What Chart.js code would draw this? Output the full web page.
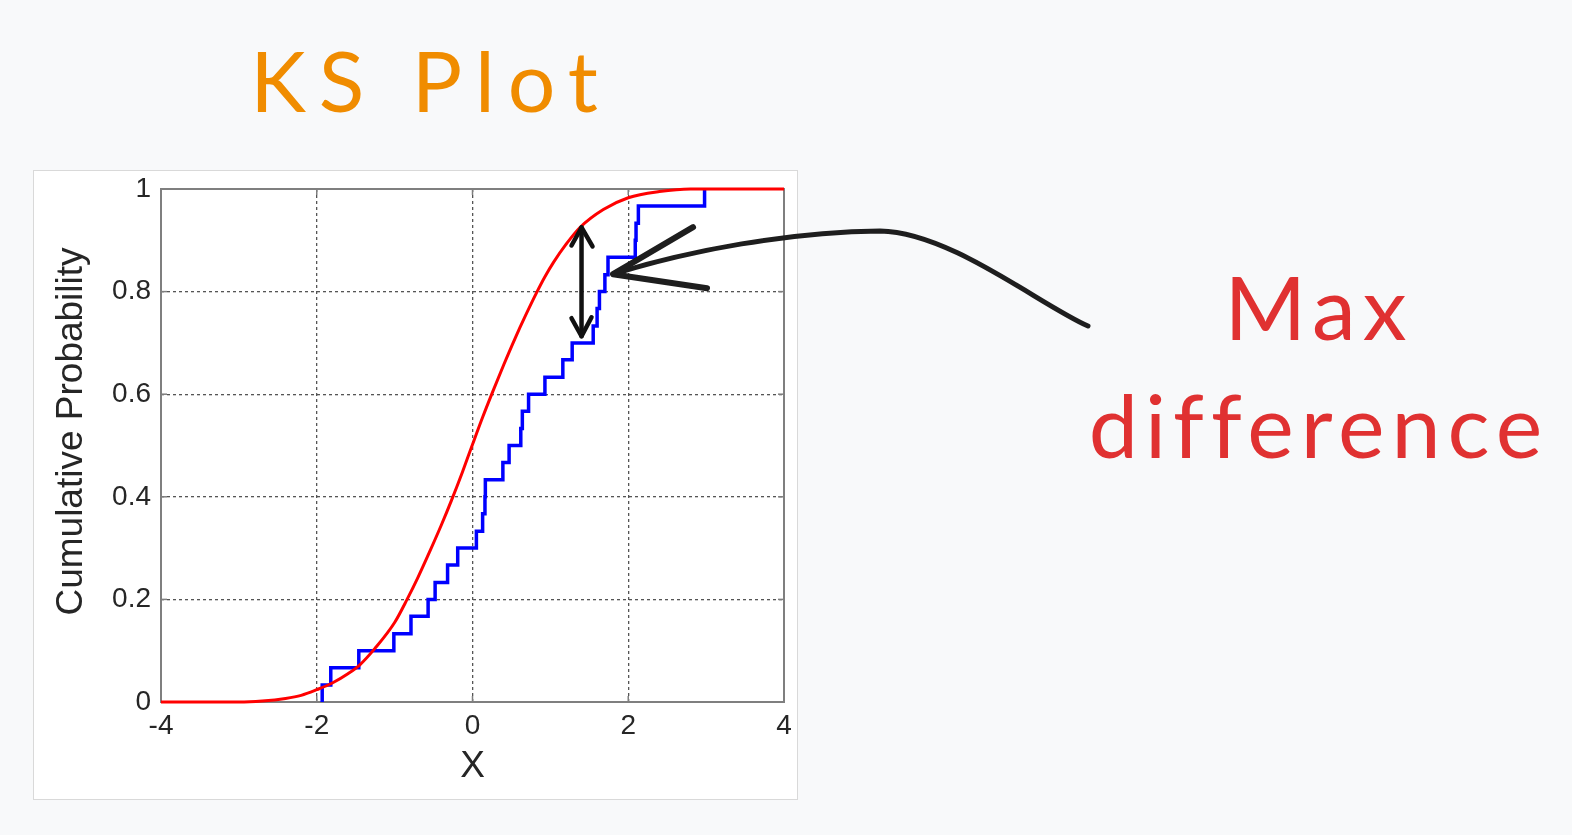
<!DOCTYPE html>
<html>
<head>
<meta charset="utf-8">
<title>KS Plot</title>
<script src="https://cdn.jsdelivr.net/npm/chart.js@4.4.1/dist/chart.umd.min.js"></script>
<style>
  html, body { margin: 0; padding: 0; }
  body { width: 1572px; height: 835px; background: #f8f9fa; position: relative; overflow: hidden; }
  .hand { position: absolute; font-family: Lato, "Open Sans", sans-serif; white-space: nowrap; text-align: center; }
  #title { left: 0; width: 861px; top: 30px; font-size: 84px; line-height: 100px; color: #f08c00; letter-spacing: 13px; }
  #note { left: 1069px; width: 500px; top: 247px; font-size: 88px; line-height: 118px; color: #e03131; letter-spacing: 7px; }
  #box { position: absolute; left: 33px; top: 170px; width: 765px; height: 630px; background: #fff;
         border: 1px solid #d9d9d9; box-sizing: border-box; }
  #arrows { position: absolute; left: 0; top: 0; pointer-events: none; }
</style>
</head>
<body>
<div class="hand" id="title">KS Plot</div>
<div class="hand" id="note">Max<br>difference</div>
<div id="box"><canvas id="ks"></canvas></div>
<svg id="arrows" width="1572" height="835">
  <path id="curve" d="" fill="none" stroke="#1e1e1e" stroke-width="5" stroke-linecap="round" stroke-linejoin="round"/>
  <path id="head" d="" fill="none" stroke="#1e1e1e" stroke-width="6" stroke-linecap="round" stroke-linejoin="round"/>
</svg>
<script>
// axis ticks
var xTicks = [-4, -2, 0, 2, 4];
var yTicks = [0, 0.2, 0.4, 0.6, 0.8, 1];
var yTickLabels = ['0', '0.2', '0.4', '0.6', '0.8', '1'];

// red curve (fitted normal CDF)
var cdfX = [-4, -3, -2.7, -2.4, -2.2, -2.0, -1.8, -1.6, -1.45, -1.25, -1.0, -0.84, -0.7, -0.55, -0.4, -0.27, -0.13, 0.0,
            0.13, 0.26, 0.4, 0.55, 0.68, 0.82, 0.93, 1.04, 1.2, 1.38, 1.68, 2.0, 2.4, 2.8, 4];
var cdfY = [0, 0, 0.002, 0.007, 0.013, 0.024, 0.037, 0.055, 0.072, 0.105, 0.155, 0.2, 0.243, 0.293, 0.345, 0.393, 0.448, 0.502,
            0.555, 0.605, 0.657, 0.71, 0.753, 0.797, 0.829, 0.857, 0.892, 0.925, 0.96, 0.983, 0.995, 1, 1];

// blue empirical CDF (30 samples)
var ecdfX = [-1.93, -1.93, -1.82, -1.46, -1.01, -0.79, -0.57, -0.48, -0.32, -0.19, 0.05, 0.13, 0.16, 0.165, 0.39, 0.47,
             0.62, 0.64, 0.72, 0.93, 1.16, 1.28, 1.55, 1.60, 1.63, 1.70, 1.74, 2.09, 2.10, 2.13, 2.98];
var ecdfY = [0, 0.033, 0.067, 0.1, 0.133, 0.167, 0.2, 0.233, 0.267, 0.3, 0.333, 0.367, 0.4, 0.433, 0.467, 0.5,
             0.533, 0.567, 0.6, 0.633, 0.667, 0.7, 0.733, 0.767, 0.8, 0.833, 0.867, 0.9, 0.933, 0.967, 1];

// annotations: double arrow (data coords) and the curved pointer
var gapX = 1.40, gapTop = 0.925, gapBottom = 0.713;
var pointerTip = [1.805, 0.834];
var pointerTail = [1088, 326];

var tickFont = '"Liberation Sans", Arial, sans-serif';
var frameColor = '#7f7f7f';

function pts(xs, ys) {
  var out = [];
  for (var i = 0; i < xs.length; i++) out.push({ x: xs[i], y: ys[i] });
  return out;
}

function line(ctx, x1, y1, x2, y2) {
  ctx.beginPath();
  ctx.moveTo(x1, y1);
  ctx.lineTo(x2, y2);
  ctx.stroke();
}

var ksDecor = {
  id: 'ksDecor',
  beforeDatasetsDraw: function (chart) {
    var ctx = chart.ctx, a = chart.chartArea, sx = chart.scales.x, sy = chart.scales.y;
    ctx.save();
    ctx.strokeStyle = frameColor;
    ctx.lineWidth = 1.5;
    // inward tick marks, matlab style
    xTicks.forEach(function (v) {
      var px = sx.getPixelForValue(v);
      line(ctx, px, a.bottom, px, a.bottom - 6);
      line(ctx, px, a.top, px, a.top + 6);
    });
    yTicks.forEach(function (v) {
      var py = sy.getPixelForValue(v);
      line(ctx, a.left, py, a.left + 6, py);
      line(ctx, a.right, py, a.right - 6, py);
    });
    ctx.lineWidth = 2;
    ctx.strokeRect(a.left, a.top, a.right - a.left, a.bottom - a.top);
    // y axis title
    ctx.translate(a.left - 79, (a.top + a.bottom) / 2 - 14);
    ctx.rotate(-Math.PI / 2);
    ctx.fillStyle = '#262626';
    ctx.font = '37px ' + tickFont;
    ctx.textAlign = 'center';
    ctx.textBaseline = 'alphabetic';
    ctx.fillText('Cumulative Probability', 0, 0);
    ctx.restore();
  },
  afterDatasetsDraw: function (chart) {
    var ctx = chart.ctx, sx = chart.scales.x, sy = chart.scales.y;
    var x = sx.getPixelForValue(gapX);
    var y1 = sy.getPixelForValue(gapTop), y2 = sy.getPixelForValue(gapBottom);
    ctx.save();
    ctx.strokeStyle = '#111';
    ctx.lineWidth = 4.5;
    ctx.lineCap = 'round';
    ctx.lineJoin = 'round';
    line(ctx, x, y1, x, y2);
    ctx.beginPath();
    ctx.moveTo(x - 10, y1 + 18); ctx.lineTo(x, y1); ctx.lineTo(x + 11, y1 + 19);
    ctx.moveTo(x - 10, y2 - 18); ctx.lineTo(x, y2); ctx.lineTo(x + 10, y2 - 19);
    ctx.stroke();
    ctx.restore();
  },
  afterDraw: function (chart) {
    // curved pointer lives in the page-wide svg, tip follows the chart scales
    var r = chart.canvas.getBoundingClientRect();
    var tx = r.left + chart.scales.x.getPixelForValue(pointerTip[0]);
    var ty = r.top + chart.scales.y.getPixelForValue(pointerTip[1]);
    var d = 'M ' + pointerTail[0] + ' ' + pointerTail[1] +
      ' C 1040 305, 950 232, 880 231' +
      ' C 790 232, 690 250, ' + tx + ' ' + ty;
    document.getElementById('curve').setAttribute('d', d);
    var h = 'M ' + (tx + 80) + ' ' + (ty - 47) + ' L ' + tx + ' ' + ty + ' L ' + (tx + 94) + ' ' + (ty + 14);
    document.getElementById('head').setAttribute('d', h);
  }
};

new Chart(document.getElementById('ks'), {
  type: 'line',
  data: {
    datasets: [
      {
        label: 'Normal CDF',
        data: pts(cdfX, cdfY),
        borderColor: '#ff0000',
        borderWidth: 3,
        cubicInterpolationMode: 'monotone',
        pointRadius: 0,
        clip: 6
      },
      {
        label: 'Empirical CDF',
        data: pts(ecdfX, ecdfY),
        borderColor: '#0000ff',
        borderWidth: 3.5,
        stepped: true,
        pointRadius: 0,
        clip: 6
      }
    ]
  },
  options: {
    responsive: true,
    maintainAspectRatio: false,
    animation: false,
    layout: { padding: { top: 18, right: 13, left: 0, bottom: 0 } },
    plugins: { legend: { display: false }, tooltip: { enabled: false } },
    scales: {
      x: {
        type: 'linear',
        min: -4,
        max: 4,
        afterBuildTicks: function (s) { s.ticks = xTicks.map(function (v) { return { value: v }; }); },
        afterFit: function (s) { s.height = 97; s.paddingLeft = 0; s.paddingRight = 0; },
        ticks: {
          color: '#262626',
          font: { family: tickFont, size: 28 },
          padding: 7,
          maxRotation: 0,
          autoSkip: false,
          callback: function (v) { return String(v); }
        },
        grid: { color: '#555', lineWidth: 1.3, drawTicks: false },
        border: { display: false, dash: [3, 3] },
        title: {
          display: true,
          text: 'X',
          color: '#262626',
          font: { family: tickFont, size: 37 },
          padding: { top: 0, bottom: 10 }
        }
      },
      y: {
        type: 'linear',
        min: 0,
        max: 1,
        afterBuildTicks: function (s) { s.ticks = yTicks.map(function (v) { return { value: v }; }); },
        afterFit: function (s) { s.width = 127; s.paddingTop = 0; s.paddingBottom = 0; },
        ticks: {
          color: '#262626',
          font: { family: tickFont, size: 28 },
          padding: 10,
          autoSkip: false,
          callback: function (v, i) { return yTickLabels[i]; }
        },
        grid: { color: '#555', lineWidth: 1.3, drawTicks: false },
        border: { display: false, dash: [3, 3] }
      }
    }
  },
  plugins: [ksDecor]
});
</script>
</body>
</html>
